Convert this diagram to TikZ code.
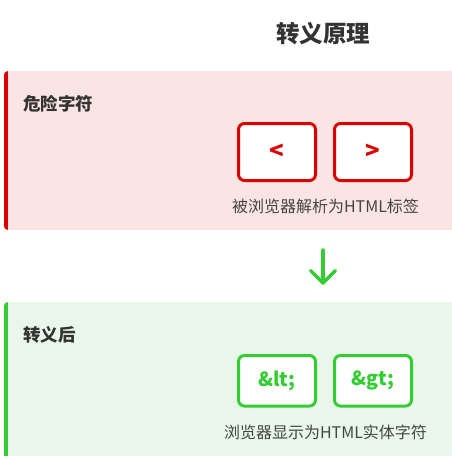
\documentclass[tikz,border=0pt]{standalone}
\usepackage{fontspec}
\setmainfont{Noto Sans CJK SC}
\usetikzlibrary{calc}
\definecolor{redline}{HTML}{DD0000}
\definecolor{redbg}{HTML}{FBE4E4}
\definecolor{greenline}{HTML}{33CC33}
\definecolor{greenbg}{HTML}{E8F7EA}
\definecolor{txt}{HTML}{333333}
\definecolor{captxt}{HTML}{444444}
\begin{document}
\begin{tikzpicture}[x=1pt,y=-1pt,
  title/.style={font=\fontsize{23.5}{26}\selectfont\bfseries, text=txt, inner sep=0pt},
  heading/.style={font=\fontsize{17.5}{20}\selectfont\bfseries, text=txt, inner sep=0pt, anchor=west},
  caption/.style={font=\fontsize{16}{19}\selectfont, text=captxt, inner sep=0pt},
  panel/.style={draw=none, inner sep=0pt, minimum width=456pt, rectangle},
  charbox/.style={draw, fill=white, line width=3pt, rounded corners=6pt, inner sep=0pt,
    minimum width=77pt, font=\fontsize{19.5}{22}\selectfont\bfseries},
  redbox/.style={charbox, draw=redline, text=redline, minimum height=57pt,
    font=\fontsize{24}{26}\selectfont\bfseries},
  greenbox/.style={charbox, draw=greenline, text=greenline, minimum height=50.5pt},
  flow/.style={draw=greenline, line width=3.3pt, line cap=round, line join=round}
]
\useasboundingbox (0,0) rectangle (452,456);
\fill[white] (0,0) rectangle (452,456);

% title
\node[title] (title) at (323,34) {转义原理};

% danger panel
\begin{scope}
  \path[clip, rounded corners=4pt] (4,71) rectangle (470,230);
  \node[panel, fill=redbg, minimum height=159pt] (dangerpanel) at (232,150.5) {};
  \fill[redline] (4,71) rectangle (7.5,230);
\end{scope}
\node[heading] (dangerhead) at (23,104) {危险字符};
\node[redbox] (lt) at (277,152) {<};
\node[redbox] (gt) at (373,152) {>};
\node[caption] (dangercap) at (325.5,206) {被浏览器解析为HTML标签};

% escaped panel
\begin{scope}
  \path[clip, rounded corners=4pt] (4,302) rectangle (470,470);
  \node[panel, fill=greenbg, minimum height=168pt] (safepanel) at (232,386) {};
  \fill[greenline] (4,302) rectangle (7.5,470);
\end{scope}
\node[heading] (safehead) at (23,335) {转义后};
\node[greenbox] (ltent) at (277,380.75) {\&lt;};
\node[greenbox] (gtent) at (373,380.75) {\&gt;};
\node[caption] (safecap) at (325.5,432.5) {浏览器显示为HTML实体字符};

% arrow between panels
\coordinate (arrowtop) at (323,250);
\coordinate (arrowtip) at (323,283);
\draw[flow] (arrowtop) -- (arrowtip);
\draw[flow] ($(arrowtip)+(-12.5,-12.5)$) -- (arrowtip) -- ($(arrowtip)+(12.5,-12.5)$);
\end{tikzpicture}
\end{document}
